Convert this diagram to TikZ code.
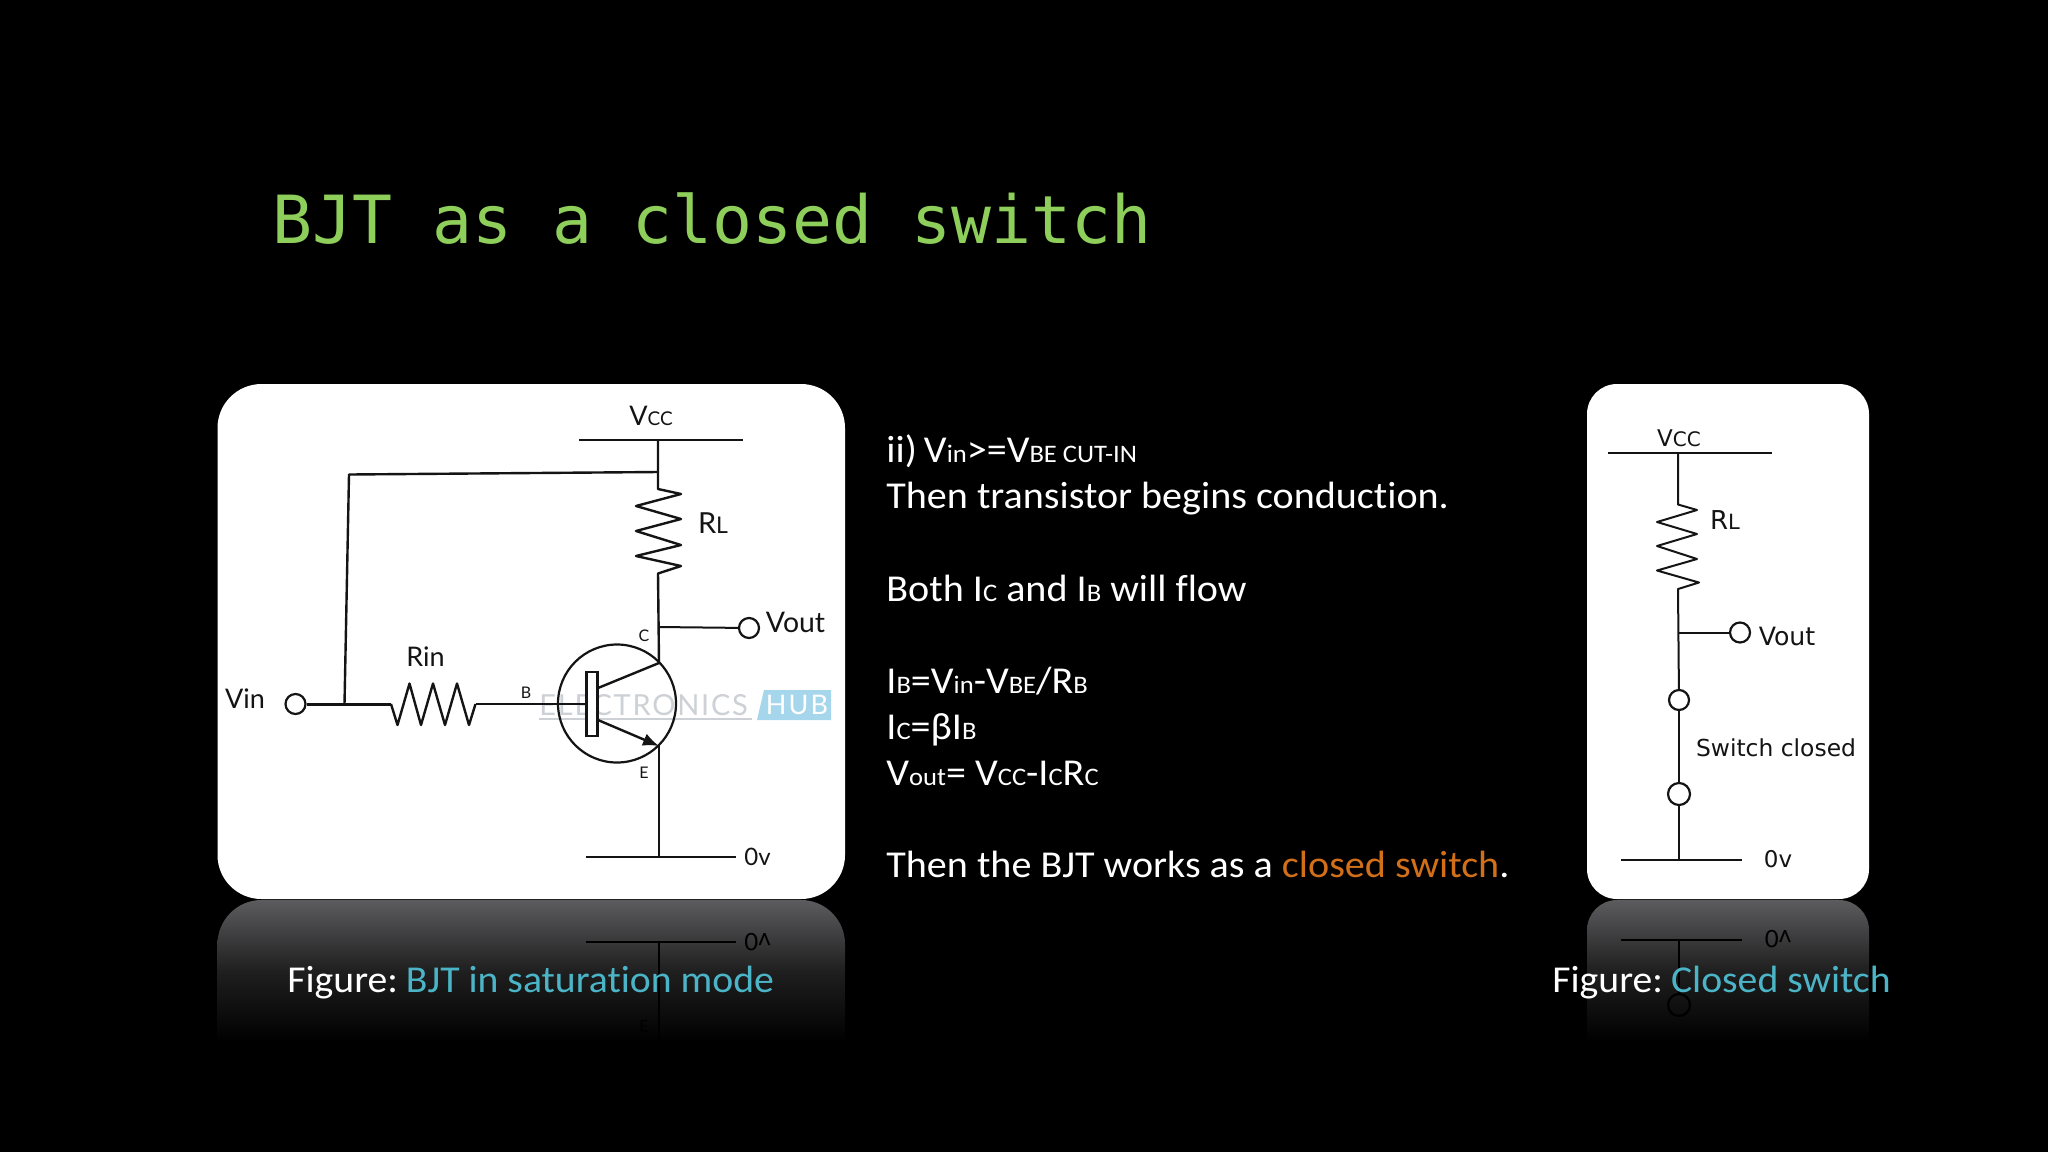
\documentclass[tikz,border=0pt]{standalone}
\usepackage{fontspec}
\usetikzlibrary{arrows.meta}
\setmainfont{Carlito}[Ligatures=NoCommon]
\newfontfamily\titlefont{DejaVu Sans Mono}
\newfontfamily\labfont{Lato}
\newfontfamily\verd{DejaVu Sans}
\newfontfamily\bodyfont{Carlito}[Ligatures=NoCommon,FakeStretch=1.055]
\newfontfamily\capfont{Carlito}[Ligatures=NoCommon,FakeStretch=1.045]
\definecolor{titlegreen}{HTML}{8ECE5A}
\definecolor{capteal}{HTML}{4BB5C7}
\definecolor{hlorange}{HTML}{D2701A}
\definecolor{ink}{HTML}{141414}
\definecolor{wmgray}{HTML}{CDD1D5}
\definecolor{wmblue}{HTML}{A6D6EC}
\definecolor{reflgray}{HTML}{5C5B5D}
\definecolor{reflmid}{HTML}{1F1F20}
\newcommand{\sm}[1]{{\fontsize{12.6}{16}\selectfont #1}}
\newcommand{\lsm}[1]{{\fontsize{9.5}{12}\selectfont #1}}
\tikzset{
  x=0.5pt,y=-0.5pt,
  panelbox/.style={fill=white,draw=none},
  wire/.style={draw=ink,line width=1.2pt,line join=round},
  thinwire/.style={draw=ink,line width=1pt,line join=round},
  term/.style={circle,draw=ink,fill=white,line width=1.1pt,inner sep=0pt,minimum size=10pt},
  lab/.style={text=ink,inner sep=0pt,font=\labfont\fontsize{13.5}{15}\selectfont},
  tinylab/.style={text=ink,inner sep=0pt,font=\labfont\fontsize{8}{10}\selectfont},
  swlab/.style={text=ink,inner sep=0pt,font=\verd\fontsize{12}{14}\selectfont},
  body/.style={text=white,inner sep=0pt,anchor=base west,font=\bodyfont\fontsize{19}{22}\selectfont},
  captext/.style={text=white,inner sep=0pt,anchor=base west,font=\capfont\fontsize{19}{22}\selectfont},
  reflshade/.style={top color=reflgray,bottom color=black,middle color=reflmid},
}
\begin{document}
\begin{tikzpicture}
\useasboundingbox (0,0) rectangle (2048,1152);
\fill[black] (0,0) rectangle (2048,1152);
% title
\node[inner sep=0pt,anchor=base west,text=titlegreen,font=\titlefont\fontsize{33.2}{40}\selectfont] (title) at (272,243) {BJT as a closed switch};
% reflections
\shade[reflshade,rounded corners=22pt] (217.5,1042) -- (217.5,900) -- (845,900) -- (845,1042);
\shade[reflshade,rounded corners=15pt] (1587,1042) -- (1587,900) -- (1869,900) -- (1869,1042);
% reflected circuit, left
\coordinate (rb1) at (586,942);
\coordinate (rb2) at (736,942);
\coordinate (rbm) at (659,942);
\coordinate (rbe) at (659,1040);
\draw[wire,draw=black] (rb1) -- (rb2);
\draw[wire,draw=black] (rbm) -- (rbe);
\node[lab,text=black,yscale=-1,font=\labfont\fontsize{12}{14}\selectfont] (rz) at (757.5,942) {0v};
\node[tinylab,text=black,yscale=-1] (re) at (644,1026) {E};
% reflected circuit, right
\coordinate (qb1) at (1621,939.5);
\coordinate (qb2) at (1741.5,939.5);
\coordinate (qbm) at (1679,939.5);
\node[term,draw=black,fill=none,minimum size=11pt] (qc) at (1679,1005) {};
\draw[thinwire,draw=black] (qb1) -- (qb2);
\draw[thinwire,draw=black] (qbm) -- (qc);
\node[lab,text=black,yscale=-1,font=\labfont\fontsize{12}{14}\selectfont] (qz) at (1778,939.5) {0v};
% panels
\fill[panelbox,rounded corners=22pt] (217.5,384) rectangle (845,899);
\fill[panelbox,rounded corners=15pt] (1587,384) rectangle (1869,899);
% watermark
\node[inner sep=0pt,text=wmgray,font=\labfont\fontsize{14.5}{17}\selectfont,anchor=west] (wm) at (539,705) {\addfontfeature{LetterSpace=6}ELECTRONICS};
\draw[wmgray,line width=.7pt] (539,719) -- (752,719);
\path[fill=wmblue] (764,690) -- (831,690) -- (831,720) -- (757,720) -- cycle;
\node[inner sep=0pt,text=white,font=\labfont\fontsize{13.5}{16}\selectfont] (wmh) at (797,705) {\addfontfeature{LetterSpace=8}HUB};
% left circuit
\coordinate (vb1) at (579,440);
\coordinate (vb2) at (743,440);
\coordinate (vbm) at (658,440);
\coordinate (rltop) at (658,489);
\coordinate (rlbot) at (658,573.5);
\coordinate (fbr) at (658,472);
\coordinate (fbc) at (349,474.5);
\coordinate (fbb) at (344.5,704);
\coordinate (rinl) at (391,704);
\coordinate (rinr) at (475.5,704);
\coordinate (coll) at (659,663);
\coordinate (emit) at (659,746);
\coordinate (junc) at (659,627);
\coordinate (z1) at (586,857);
\coordinate (z2) at (736,857);
\coordinate (zm) at (659,857);
\draw[wire] (vb1) -- (vb2);
\node[lab] (lvcc) at (651,416) {V\lsm{CC}};
\draw[wire] (vbm) -- (rltop) -- (681,494) -- (636,506) -- (681,519) -- (636,531) -- (681,545) -- (636,556) -- (681,566) -- (rlbot) -- (coll);
\draw[wire] (fbr) -- (fbc) -- (fbb);
\node[lab,font=\labfont\fontsize{14.5}{16}\selectfont] (lrl) at (713,523) {R\fontsize{11.5}{13}\selectfont L};
\node[term] (vin) at (295.5,704) {};
\draw[wire,line width=1.5pt] (vin) -- (fbb) -- (rinl);
\draw[wire] (rinl) -- (397.5,725) -- (409.5,683.5) -- (421,725) -- (433,683.5) -- (445,725) -- (457,683.5) -- (469,725) -- (rinr);
\node[lab] (lvin) at (245,699) {Vin};
\node[lab] (lrin) at (425.5,656.5) {Rin};
\node[circle,draw=ink,line width=1.1pt,inner sep=0pt,minimum size=59pt] (tr) at (617,703.5) {};
\node[rectangle,draw=ink,fill=white,line width=1.1pt,inner sep=0pt,minimum width=5.5pt,minimum height=32pt] (barb) at (592,704) {};
\draw[wire] (rinr) -- (barb.west);
\coordinate (barc) at (598,688);
\coordinate (bare) at (598,720);
\draw[wire] (barc) -- (coll);
\draw[wire,-{Latex[length=8pt,width=6.5pt]}] (bare) -- (emit);
\draw[wire] (emit) -- (zm);
\draw[wire] (z1) -- (z2);
\node[term] (vout) at (749,628) {};
\draw[thinwire] (junc) -- (vout);
\node[lab,font=\labfont\fontsize{14.2}{16}\selectfont] (lvout) at (795.5,622) {Vout};
\node[lab,font=\labfont\fontsize{12}{14}\selectfont] (lz) at (757.5,857) {0v};
\node[tinylab] (lc) at (644,636) {C};
\node[tinylab] (lb) at (526,693) {B};
\node[tinylab] (le) at (644,773) {E};
% right circuit
\coordinate (sb1) at (1608,453);
\coordinate (sb2) at (1771.5,453);
\coordinate (sbm) at (1678,453);
\coordinate (stop) at (1678,504.5);
\coordinate (sbot) at (1678,589);
\coordinate (sjunc) at (1678,632.5);
\coordinate (sg1) at (1621,859.5);
\coordinate (sg2) at (1741.5,859.5);
\coordinate (sgm) at (1679,859.5);
\node[term] (swa) at (1679,700) {};
\node[term,minimum size=11pt] (swb) at (1679,794) {};
\node[term] (svout) at (1740,632.5) {};
\draw[thinwire] (sb1) -- (sb2);
\draw[thinwire] (sg1) -- (sg2);
\draw[thinwire] (sbm) -- (stop) -- (1697,510) -- (1657,522) -- (1697,534) -- (1657,546) -- (1697,559) -- (1657,570.5) -- (1699,582.5) -- (sbot) -- (swa);
\draw[thinwire] (swa) -- (swb);
\draw[thinwire] (swb) -- (sgm);
\draw[thinwire] (sjunc) -- (svout);
\node[swlab,font=\verd\fontsize{11.5}{14}\selectfont] (slv) at (1679,438) {V\fontsize{10}{12}\selectfont CC};
\node[swlab,font=\verd\fontsize{13}{14}\selectfont] (slr) at (1725,520.5) {R\fontsize{10.5}{12}\selectfont L};
\node[swlab,font=\verd\fontsize{12.6}{14}\selectfont] (slo) at (1787,636.5) {Vout};
\node[swlab,font=\verd\fontsize{11.7}{14}\selectfont] (sls) at (1776,747.5) {Switch closed};
\node[swlab,font=\verd\fontsize{11.5}{14}\selectfont] (slz) at (1778,859.5) {0v};
% body text
\node[body] (t1) at (886,462.5) {ii)\hspace{-1pt} V\sm{in}>=V\sm{BE CUT-IN}};
\node[body] (t2) at (886,508.5) {Then transistor begins conduction.};
\node[body] (t3) at (886,601) {Both I\sm{C} and I\sm{B} will flow};
\node[body] (t4) at (886,693) {I\sm{B}=V\sm{in}-V\sm{BE}/R\sm{B}};
\node[body] (t5) at (886,739) {I\sm{C}=βI\sm{B}};
\node[body] (t6) at (886,785) {V\sm{out}= V\sm{CC}-I\sm{C}R\sm{C}};
\node[body] (t7) at (886,877) {Then the BJT works as a \textcolor{hlorange}{closed switch}.};
% captions
\node[captext] (c1) at (287,992) {Figure:\hspace{-2pt} \textcolor{capteal}{BJT in saturation mode}};
\node[captext] (c2) at (1552,992) {Figure:\hspace{-2pt} \textcolor{capteal}{Closed switch}};
\end{tikzpicture}
\end{document}
